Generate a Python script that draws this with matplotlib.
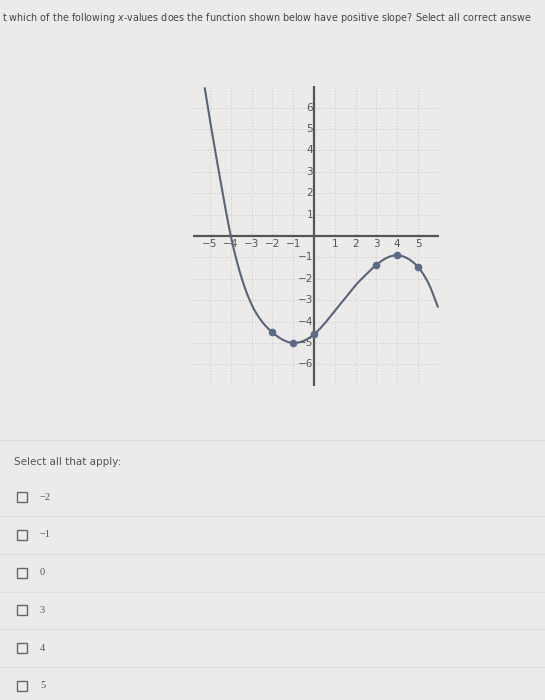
import matplotlib
matplotlib.use("Agg")
import matplotlib.pyplot as plt
from matplotlib.patches import Rectangle
import numpy as np

curve_x = [-5.25, -5.0, -4.5, -4.0, -3.5, -3.0, -2.5, -2.0, -1.5, -1.0, -0.5, 0.0, 0.5, 1.0, 1.5, 2.0, 2.5, 3.0, 3.5, 4.0, 4.5, 5.0, 5.5, 5.95]
curve_y = [6.9, 5.4, 2.6, 0.0, -1.9, -3.2, -4.0, -4.5, -4.85, -5.0, -4.9, -4.6, -4.1, -3.5, -2.9, -2.3, -1.8, -1.35, -1.02, -0.9, -1.05, -1.45, -2.2, -3.3]
point_x = [-2, -1, 0, 3, 4, 5]
point_y = [-4.5, -5.0, -4.6, -1.35, -0.9, -1.45]
x_ticks = [-5, -4, -3, -2, -1, 1, 2, 3, 4, 5]
y_ticks = [-6, -5, -4, -3, -2, -1, 1, 2, 3, 4, 5, 6]
choices = ["\u22122", "\u22121", "0", "3", "4", "5"]

def catmull(xs, ys, n=12):
    P = np.column_stack([xs, ys])
    P = np.vstack([P[0], P, P[-1]])
    out = []
    for i in range(1, len(P) - 2):
        p0, p1, p2, p3 = P[i-1], P[i], P[i+1], P[i+2]
        for t in np.linspace(0, 1, n, endpoint=False):
            out.append(0.5*((2*p1) + (-p0+p2)*t + (2*p0-5*p1+4*p2-p3)*t**2 + (-p0+3*p1-3*p2+p3)*t**3))
    out.append(P[-2])
    out = np.array(out)
    return out[:, 0], out[:, 1]

W, H = 545, 700
fig = plt.figure(figsize=(W/100, H/100), dpi=100)
fig.patch.set_facecolor("#ecebea")

def fx(px): return px / W
def fy(py): return 1 - py / H

fig.text(fx(2), fy(18), "t which of the following $x$-values does the function shown below have positive slope? Select all correct answe",
         fontsize=6.9, color="#444", va="center", ha="left", family="DejaVu Sans")

xl, xr = -5.8, 6.0
yb, yt = -7.0, 7.0
sx, sy = 20.8, 21.4
left = 314 + xl*sx; right = 314 + xr*sx
top = 236 - yt*sy; bottom = 236 - yb*sy
ax = fig.add_axes([fx(left), fy(bottom), (right-left)/W, (bottom-top)/H])
ax.set_xlim(xl, xr); ax.set_ylim(yb, yt)
ax.set_facecolor("#ecebea")
for s in ax.spines.values(): s.set_visible(False)
ax.set_xticks([]); ax.set_yticks([])
for v in range(-5, 6):
    ax.axvline(v, color="#c8c8c8", lw=0.7, ls=(0, (1, 2)), zorder=0)
for v in range(-6, 7):
    ax.axhline(v, color="#c8c8c8", lw=0.7, ls=(0, (1, 2)), zorder=0)
ax.axhline(0, color="#555", lw=1.6, zorder=1)
ax.axvline(0, color="#555", lw=1.6, zorder=1)
for t in x_ticks:
    ax.text(t, -0.15, str(t).replace("-", "\u2212"), ha="center", va="top", fontsize=7.5, color="#555")
for t in y_ticks:
    ax.text(-0.05, t, str(t).replace("-", "\u2212"), ha="right", va="center", fontsize=7.5, color="#555")
cx, cy = catmull(curve_x, curve_y)
ax.plot(cx, cy, color="#5a6478", lw=1.5, zorder=3)
ax.plot(point_x, point_y, "o", color="#5a6a88", ms=4.5, zorder=4)

fig.text(fx(14), fy(462), "Select all that apply:", fontsize=7.5, color="#555", va="center")
fig.add_artist(plt.Line2D([0, 1], [fy(440), fy(440)], color="#dddddd", lw=0.8))
for i, c in enumerate(choices):
    py = 497 + i*37.8
    fig.add_artist(Rectangle((fx(17), fy(py+5)), 10/W, 10/H, fill=False, ec="#666", lw=1))
    fig.text(fx(40), fy(py), c, fontsize=7.5, color="#555", va="center", family="Liberation Serif")
    fig.add_artist(plt.Line2D([0, 1], [fy(py+19), fy(py+19)], color="#dedede", lw=0.8))

fig.savefig("out.png", dpi=100, facecolor=fig.get_facecolor())
